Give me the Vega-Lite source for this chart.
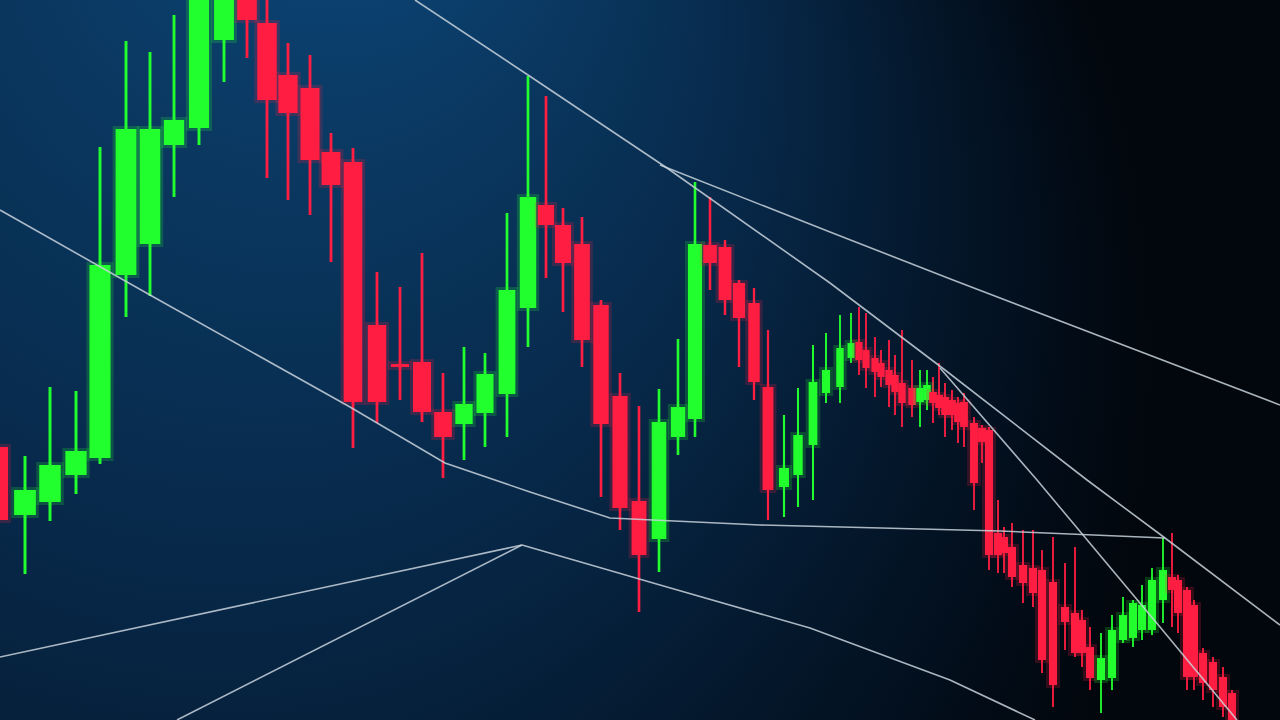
{
  "$schema": "https://vega.github.io/schema/vega-lite/v6.json",
  "width": 1280,
  "height": 720,
  "autosize": {"type": "none"},
  "padding": 0,
  "background": "#02070d",
  "config": {
    "scale": {"continuousPadding": 0},
    "view": {
      "stroke": null,
      "fill": {
        "gradient": "radial",
        "x1": 0.3, "y1": 0.02, "r1": 0,
        "x2": 0.06, "y2": 0.5, "r2": 0.84,
        "stops": [
          {"offset": 0, "color": "#0e4c82"},
          {"offset": 0.25, "color": "#0a3861"},
          {"offset": 0.5, "color": "#072747"},
          {"offset": 0.72, "color": "#04172b"},
          {"offset": 0.9, "color": "#020b16"},
          {"offset": 1, "color": "#02070d"}
        ]
      }
    }
  },
  "datasets": {
    "candles": [
      {"t": -3, "open": 447, "close": 520, "high": 425, "low": 535, "dir": "down"},
      {"t": 25, "open": 515, "close": 490, "high": 456, "low": 574, "dir": "up"},
      {"t": 50, "open": 502, "close": 465, "high": 387, "low": 521, "dir": "up"},
      {"t": 76, "open": 475, "close": 451, "high": 391, "low": 494, "dir": "up"},
      {"t": 100, "open": 458, "close": 265, "high": 147, "low": 464, "dir": "up"},
      {"t": 126, "open": 275, "close": 129, "high": 41, "low": 317, "dir": "up"},
      {"t": 150, "open": 244, "close": 129, "high": 52, "low": 296, "dir": "up"},
      {"t": 174, "open": 145, "close": 120, "high": 15, "low": 197, "dir": "up"},
      {"t": 199, "open": 128, "close": -10, "high": -20, "low": 145, "dir": "up"},
      {"t": 224, "open": 40, "close": -10, "high": -20, "low": 82, "dir": "up"},
      {"t": 247, "open": -10, "close": 20, "high": -20, "low": 58, "dir": "down"},
      {"t": 267, "open": 23, "close": 100, "high": -5, "low": 178, "dir": "down"},
      {"t": 288, "open": 75, "close": 113, "high": 43, "low": 200, "dir": "down"},
      {"t": 310, "open": 88, "close": 160, "high": 55, "low": 215, "dir": "down"},
      {"t": 331, "open": 152, "close": 185, "high": 133, "low": 262, "dir": "down"},
      {"t": 353, "open": 162, "close": 402, "high": 148, "low": 448, "dir": "down"},
      {"t": 377, "open": 325, "close": 402, "high": 272, "low": 423, "dir": "down"},
      {"t": 400, "open": 364, "close": 367, "high": 287, "low": 400, "dir": "down"},
      {"t": 422, "open": 362, "close": 412, "high": 253, "low": 422, "dir": "down"},
      {"t": 443, "open": 412, "close": 437, "high": 373, "low": 478, "dir": "down"},
      {"t": 464, "open": 424, "close": 404, "high": 347, "low": 460, "dir": "up"},
      {"t": 485, "open": 413, "close": 374, "high": 353, "low": 447, "dir": "up"},
      {"t": 507, "open": 394, "close": 290, "high": 213, "low": 437, "dir": "up"},
      {"t": 528, "open": 308, "close": 197, "high": 76, "low": 347, "dir": "up"},
      {"t": 546, "open": 205, "close": 225, "high": 96, "low": 278, "dir": "down"},
      {"t": 563, "open": 225, "close": 263, "high": 208, "low": 312, "dir": "down"},
      {"t": 582, "open": 244, "close": 340, "high": 217, "low": 367, "dir": "down"},
      {"t": 601, "open": 305, "close": 424, "high": 300, "low": 497, "dir": "down"},
      {"t": 620, "open": 396, "close": 508, "high": 373, "low": 530, "dir": "down"},
      {"t": 639, "open": 501, "close": 555, "high": 406, "low": 612, "dir": "down"},
      {"t": 659, "open": 539, "close": 422, "high": 389, "low": 572, "dir": "up"},
      {"t": 678, "open": 437, "close": 407, "high": 339, "low": 455, "dir": "up"},
      {"t": 695, "open": 419, "close": 244, "high": 182, "low": 437, "dir": "up"},
      {"t": 710, "open": 245, "close": 263, "high": 197, "low": 290, "dir": "down"},
      {"t": 725, "open": 247, "close": 300, "high": 240, "low": 315, "dir": "down"},
      {"t": 739, "open": 283, "close": 318, "high": 280, "low": 367, "dir": "down"},
      {"t": 754, "open": 303, "close": 382, "high": 288, "low": 400, "dir": "down"},
      {"t": 768, "open": 387, "close": 490, "high": 330, "low": 520, "dir": "down"},
      {"t": 784, "open": 487, "close": 468, "high": 415, "low": 517, "dir": "up"},
      {"t": 798, "open": 475, "close": 435, "high": 388, "low": 507, "dir": "up"},
      {"t": 813, "open": 445, "close": 382, "high": 345, "low": 500, "dir": "up"},
      {"t": 826, "open": 393, "close": 370, "high": 333, "low": 403, "dir": "up"},
      {"t": 840, "open": 387, "close": 348, "high": 315, "low": 403, "dir": "up"},
      {"t": 851, "open": 358, "close": 343, "high": 313, "low": 363, "dir": "up"},
      {"t": 859, "open": 342, "close": 360, "high": 307, "low": 375, "dir": "down"},
      {"t": 866, "open": 350, "close": 368, "high": 313, "low": 388, "dir": "down"},
      {"t": 875, "open": 358, "close": 372, "high": 337, "low": 397, "dir": "down"},
      {"t": 881, "open": 363, "close": 377, "high": 350, "low": 387, "dir": "down"},
      {"t": 889, "open": 370, "close": 385, "high": 340, "low": 407, "dir": "down"},
      {"t": 895, "open": 375, "close": 392, "high": 355, "low": 415, "dir": "down"},
      {"t": 902, "open": 383, "close": 403, "high": 330, "low": 427, "dir": "down"},
      {"t": 912, "open": 388, "close": 405, "high": 360, "low": 417, "dir": "down"},
      {"t": 920, "open": 402, "close": 388, "high": 370, "low": 427, "dir": "up"},
      {"t": 927, "open": 400, "close": 385, "high": 370, "low": 410, "dir": "up"},
      {"t": 933, "open": 392, "close": 403, "high": 377, "low": 423, "dir": "down"},
      {"t": 939, "open": 395, "close": 408, "high": 363, "low": 415, "dir": "down"},
      {"t": 945, "open": 397, "close": 415, "high": 383, "low": 437, "dir": "down"},
      {"t": 952, "open": 400, "close": 415, "high": 390, "low": 430, "dir": "down"},
      {"t": 958, "open": 403, "close": 422, "high": 397, "low": 443, "dir": "down"},
      {"t": 964, "open": 402, "close": 427, "high": 393, "low": 447, "dir": "down"},
      {"t": 974, "open": 423, "close": 483, "high": 417, "low": 510, "dir": "down"},
      {"t": 982, "open": 428, "close": 442, "high": 425, "low": 463, "dir": "down"},
      {"t": 989, "open": 430, "close": 555, "high": 427, "low": 570, "dir": "down"},
      {"t": 998, "open": 533, "close": 555, "high": 500, "low": 573, "dir": "down"},
      {"t": 1004, "open": 537, "close": 553, "high": 527, "low": 573, "dir": "down"},
      {"t": 1012, "open": 547, "close": 577, "high": 523, "low": 587, "dir": "down"},
      {"t": 1023, "open": 565, "close": 583, "high": 530, "low": 603, "dir": "down"},
      {"t": 1033, "open": 568, "close": 593, "high": 530, "low": 607, "dir": "down"},
      {"t": 1042, "open": 570, "close": 660, "high": 550, "low": 673, "dir": "down"},
      {"t": 1053, "open": 582, "close": 685, "high": 537, "low": 707, "dir": "down"},
      {"t": 1065, "open": 607, "close": 622, "high": 563, "low": 650, "dir": "down"},
      {"t": 1075, "open": 613, "close": 653, "high": 547, "low": 657, "dir": "down"},
      {"t": 1082, "open": 620, "close": 653, "high": 610, "low": 667, "dir": "down"},
      {"t": 1090, "open": 647, "close": 678, "high": 627, "low": 690, "dir": "down"},
      {"t": 1101, "open": 680, "close": 658, "high": 633, "low": 713, "dir": "up"},
      {"t": 1112, "open": 678, "close": 630, "high": 615, "low": 690, "dir": "up"},
      {"t": 1123, "open": 640, "close": 615, "high": 597, "low": 643, "dir": "up"},
      {"t": 1133, "open": 638, "close": 603, "high": 600, "low": 647, "dir": "up"},
      {"t": 1142, "open": 630, "close": 605, "high": 585, "low": 640, "dir": "up"},
      {"t": 1152, "open": 630, "close": 580, "high": 568, "low": 635, "dir": "up"},
      {"t": 1163, "open": 600, "close": 570, "high": 538, "low": 623, "dir": "up"},
      {"t": 1172, "open": 577, "close": 590, "high": 533, "low": 627, "dir": "down"},
      {"t": 1178, "open": 580, "close": 613, "high": 575, "low": 633, "dir": "down"},
      {"t": 1187, "open": 590, "close": 677, "high": 587, "low": 690, "dir": "down"},
      {"t": 1194, "open": 605, "close": 677, "high": 600, "low": 690, "dir": "down"},
      {"t": 1203, "open": 653, "close": 683, "high": 648, "low": 700, "dir": "down"},
      {"t": 1213, "open": 662, "close": 690, "high": 657, "low": 707, "dir": "down"},
      {"t": 1223, "open": 677, "close": 707, "high": 667, "low": 717, "dir": "down"},
      {"t": 1232, "open": 693, "close": 725, "high": 690, "low": 730, "dir": "down"}
    ],
    "lines": [
      {"id": "support", "t": 0, "v": 210},
      {"id": "support", "t": 150, "v": 295},
      {"id": "support", "t": 350, "v": 407},
      {"id": "support", "t": 445, "v": 463},
      {"id": "support", "t": 530, "v": 492},
      {"id": "support", "t": 610, "v": 518},
      {"id": "support", "t": 760, "v": 525},
      {"id": "support", "t": 1000, "v": 531},
      {"id": "support", "t": 1165, "v": 538},
      {"id": "resistance", "t": 415, "v": 0},
      {"id": "resistance", "t": 528, "v": 75},
      {"id": "resistance", "t": 667, "v": 168},
      {"id": "resistance", "t": 830, "v": 283},
      {"id": "resistance", "t": 945, "v": 370},
      {"id": "resistance", "t": 1087, "v": 480},
      {"id": "resistance", "t": 1165, "v": 538},
      {"id": "resistance", "t": 1280, "v": 625},
      {"id": "upper", "t": 660, "v": 165},
      {"id": "upper", "t": 830, "v": 232},
      {"id": "upper", "t": 953, "v": 280},
      {"id": "upper", "t": 1280, "v": 405},
      {"id": "steep", "t": 940, "v": 368},
      {"id": "steep", "t": 1037, "v": 480},
      {"id": "steep", "t": 1160, "v": 627},
      {"id": "steep", "t": 1237, "v": 720},
      {"id": "fanA", "t": 0, "v": 657},
      {"id": "fanA", "t": 522, "v": 545},
      {"id": "fanB", "t": 177, "v": 720},
      {"id": "fanB", "t": 522, "v": 545},
      {"id": "fanC", "t": 522, "v": 545},
      {"id": "fanC", "t": 660, "v": 585},
      {"id": "fanC", "t": 810, "v": 628},
      {"id": "fanC", "t": 950, "v": 680},
      {"id": "fanC", "t": 1035, "v": 720}
    ]
  },
  "layer": [
    {
      "data": {"name": "candles"},
      "mark": {"type": "rule", "clip": true},
      "encoding": {
        "x": {"field": "t", "type": "quantitative", "scale": {"domain": [0, 1280], "nice": false, "zero": false, "padding": 0}, "axis": null},
        "y": {"field": "high", "type": "quantitative", "scale": {"domain": [0, 720], "reverse": true, "nice": false, "zero": false, "padding": 0}, "axis": null},
        "y2": {"field": "low"},
        "color": {"field": "dir", "type": "nominal", "scale": {"domain": ["up", "down"], "range": ["#22ff2e", "#ff1e42"]}, "legend": null},
        "size": {"field": "t", "type": "quantitative", "scale": {"domain": [0, 700, 850, 1280], "range": [3, 2.6, 1.8, 1.8]}, "legend": null}
      }
    },
    {
      "data": {"name": "candles"},
      "mark": {"type": "bar", "clip": true, "strokeWidth": 6, "strokeOpacity": 0.2},
      "encoding": {
        "x": {"field": "t", "type": "quantitative", "scale": {"domain": [0, 1280], "nice": false, "zero": false, "padding": 0}, "axis": null},
        "y": {"field": "open", "type": "quantitative", "scale": {"domain": [0, 720], "reverse": true, "nice": false, "zero": false, "padding": 0}, "axis": null},
        "y2": {"field": "close"},
        "color": {"field": "dir", "type": "nominal", "scale": {"domain": ["up", "down"], "range": ["#22ff2e", "#ff1e42"]}, "legend": null},
        "stroke": {"field": "dir", "type": "nominal", "scale": {"domain": ["up", "down"], "range": ["#22ff2e", "#ff1e42"]}, "legend": null},
        "size": {"field": "t", "type": "quantitative", "scale": {"domain": [0, 420, 700, 850, 990, 1280], "range": [22, 18, 14, 7, 8, 8]}, "legend": null}
      }
    },
    {
      "data": {"name": "lines"},
      "mark": {"type": "line", "clip": true, "color": "#c8d2dc", "strokeWidth": 1.6, "opacity": 0.85},
      "encoding": {
        "x": {"field": "t", "type": "quantitative", "scale": {"domain": [0, 1280], "nice": false, "zero": false, "padding": 0}, "axis": null},
        "y": {"field": "v", "type": "quantitative", "scale": {"domain": [0, 720], "reverse": true, "nice": false, "zero": false, "padding": 0}, "axis": null},
        "detail": {"field": "id"},
        "order": {"field": "t"}
      }
    }
  ],
  "resolve": {"scale": {"size": "independent"}}
}
